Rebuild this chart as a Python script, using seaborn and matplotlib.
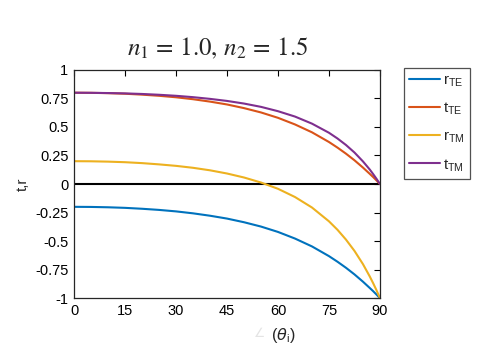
import pandas as pd
import matplotlib
matplotlib.use('Agg')
import matplotlib.pyplot as plt
import seaborn as sns

# incidence angle (deg) and Fresnel coefficients
theta = [0, 5, 10, 15, 20, 25, 30, 35, 40, 45, 50, 55, 60, 65, 70, 75, 77.5,
         80, 82.5, 85, 87, 88, 89, 90]
r_te = [-0.200, -0.201, -0.204, -0.209, -0.217, -0.227, -0.240, -0.257, -0.278, -0.303,
        -0.335, -0.373, -0.420, -0.478, -0.547, -0.632, -0.681,
        -0.734, -0.792, -0.856, -0.911, -0.939, -0.969, -1.000]
t_te = [0.800, 0.799, 0.796, 0.791, 0.783, 0.773, 0.760, 0.743, 0.722, 0.697,
        0.665, 0.627, 0.580, 0.522, 0.453, 0.368, 0.319,
        0.266, 0.208, 0.144, 0.089, 0.061, 0.031, 0.000]
r_tm = [0.200, 0.199, 0.196, 0.191, 0.183, 0.172, 0.159, 0.142, 0.120, 0.092,
        0.057, 0.013, -0.042, -0.114, -0.206, -0.327, -0.401,
        -0.487, -0.586, -0.702, -0.810, -0.869, -0.932, -1.000]
t_tm = [0.800, 0.799, 0.797, 0.794, 0.789, 0.782, 0.773, 0.761, 0.746, 0.728,
        0.705, 0.676, 0.638, 0.591, 0.529, 0.449, 0.399,
        0.342, 0.276, 0.198, 0.127, 0.087, 0.045, 0.000]
labels = [r'r$_\mathrm{TE}$', r't$_\mathrm{TE}$', r'r$_\mathrm{TM}$', r't$_\mathrm{TM}$']
colors = ['#0072BD', '#D95319', '#EDB120', '#7E2F8E']
xticks = [0, 15, 30, 45, 60, 75, 90]
yticks = [-1, -0.75, -0.5, -0.25, 0, 0.25, 0.5, 0.75, 1]

frames = []
for lab, vals in zip(labels, [r_te, t_te, r_tm, t_tm]):
    frames.append(pd.DataFrame({'theta': theta, 'value': vals, 'series': lab}))
df = pd.concat(frames, ignore_index=True)

sns.set_style('white')
plt.rcParams['font.family'] = ['Liberation Sans', 'DejaVu Sans']
plt.rcParams['mathtext.fontset'] = 'custom'
plt.rcParams['mathtext.rm'] = 'Liberation Sans'

fig = plt.figure(figsize=(4.84, 3.64), dpi=100)
ax = fig.add_axes([0.153, 0.181, 0.632, 0.627])

sns.lineplot(data=df, x='theta', y='value', hue='series', palette=colors,
             hue_order=labels, linewidth=1.5, ax=ax, legend=True)
ax.axhline(0, color='black', linewidth=1.5, zorder=1)

ax.set_xlim(0, 90)
ax.set_ylim(-1, 1)
ax.set_xticks(xticks)
ax.set_xticklabels([str(v) for v in xticks])
ax.set_yticks(yticks)
ax.set_yticklabels(['-1', '-0.75', '-0.5', '-0.25', '0', '0.25', '0.5', '0.75', '1'])
ax.tick_params(direction='in', length=4, width=0.8, top=True, right=True,
               labelsize=10.5, colors='black', pad=4)
for s in ax.spines.values():
    s.set_color('#262626')
    s.set_linewidth(0.9)

ax.set_xlabel(r'$(\theta_\mathrm{i})$', fontsize=11.5)
ax.xaxis.set_label_coords(0.683, -0.12)
fig.text(260 / 484, 1 - 334 / 364, '∠', fontsize=9, color='#e4e4e4', ha='center', va='center')
ax.set_ylabel('t,r', fontsize=11, labelpad=4)

fig.text(0.45, 0.868, r'$n_1\,=\,1.0,\,n_2\,=\,1.5$', fontsize=18, ha='center', va='center',
         math_fontfamily='stix')

leg = ax.legend(loc='upper left', bbox_to_anchor=(1.078, 1.01), frameon=True,
                fancybox=False, edgecolor='#262626', fontsize=11,
                handlelength=2.0, handletextpad=0.2, labelspacing=0.78,
                borderpad=0.35, borderaxespad=0, title=None)
leg.get_frame().set_linewidth(0.9)

fig.savefig('out.png', dpi=100)
